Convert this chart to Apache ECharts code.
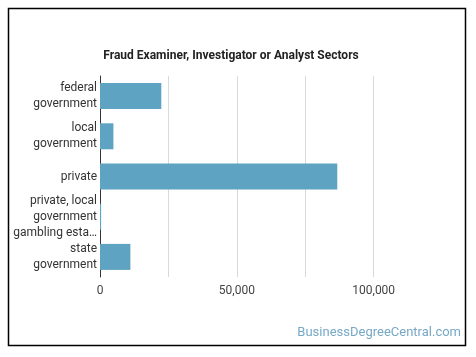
<!DOCTYPE html>
<html><head><meta charset="utf-8">
<script src="https://cdn.jsdelivr.net/npm/echarts@6/dist/echarts.min.js"></script>
<style>html,body{margin:0;padding:0;background:#fff}#c{width:476px;height:357px}</style>
</head><body><div id="c"></div>
<script>
var categories = ['federal\ngovernment', 'local\ngovernment', 'private', 'private, local\ngovernment\ngambling esta…', 'state\ngovernment'];
var values = [22400, 4900, 86700, 400, 11100];
var tickLabels = ['0', '', '50,000', '', '100,000'];
var title = 'Fraud Examiner, Investigator or Analyst Sectors';
var watermark = 'BusinessDegreeCentral.com';

var chart = echarts.init(document.getElementById('c'), null, {renderer: 'canvas'});
chart.setOption({
  animation: false,
  title: {text: title, left: 226, top: 45, textAlign: 'center',
    textStyle: {fontFamily: 'Roboto', fontSize: 12, fontWeight: 'bold', color: '#222'}},
  graphic: [
    {type: 'rect', shape: {x: 8.5, y: 8.5, width: 457, height: 337}, style: {fill: 'none', stroke: '#000', lineWidth: 1.5}, z: 100},
    {type: 'text', right: 15, top: 326, style: {text: watermark, font: '13px Roboto', fill: '#77a8c6'}}
  ],
  grid: {left: 100, right: 102.3, top: 76, height: 201, containLabel: false},
  xAxis: {type: 'value', min: 0, max: 100000, interval: 25000,
    axisLine: {show: false}, axisTick: {show: false},
    splitLine: {lineStyle: {color: '#d9d9d9', width: 1}},
    axisLabel: {fontFamily: 'Roboto', fontSize: 12, color: '#444', margin: 8,
      formatter: function (v) { return tickLabels[Math.round(v / 25000)] || ''; }}},
  yAxis: {type: 'category', data: categories, inverse: true,
    axisLine: {show: true, lineStyle: {color: '#333', width: 1}}, axisTick: {show: false},
    axisLabel: {fontFamily: 'Roboto', fontSize: 12, color: '#333', margin: 3, lineHeight: 16, interval: 0}},
  series: [{type: 'bar', data: values, barWidth: 26,
    itemStyle: {color: '#5ea3c1'}}]
});
</script></body></html>
